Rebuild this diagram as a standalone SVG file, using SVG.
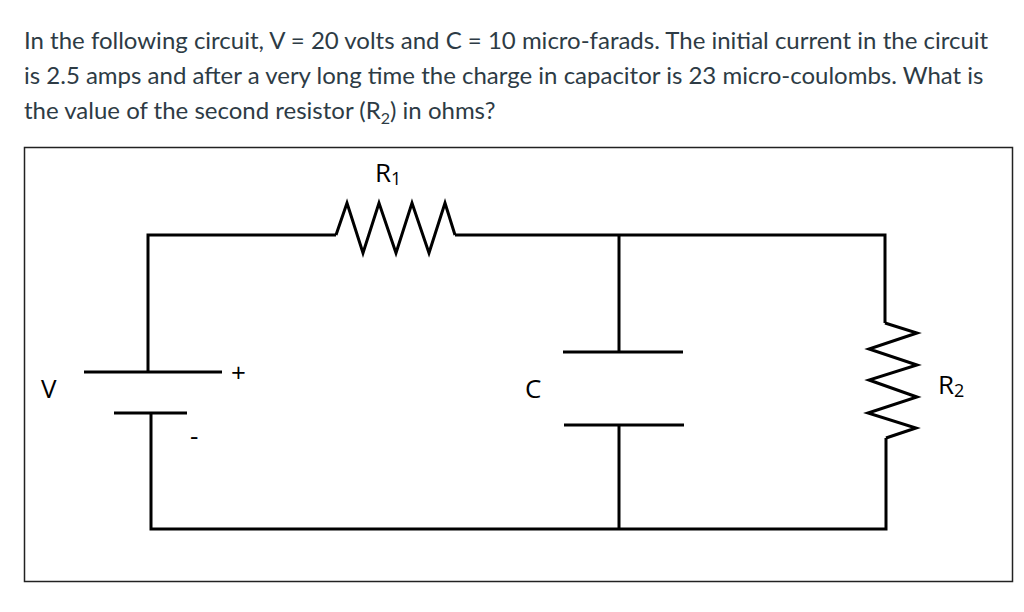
<svg xmlns="http://www.w3.org/2000/svg" width="1024" height="612" viewBox="0 0 1024 612">
<style>
.q{font-family:Lato,"Liberation Sans",sans-serif;font-size:24px;fill:#2d3b45}
.l{font-family:"Open Sans","Liberation Sans",sans-serif;font-size:26px;fill:#000}
.s{font-size:18px}
.w{stroke:#000;stroke-width:3;fill:none}
</style>
<rect width="1024" height="612" fill="#fff"/>
<g id="question">
<text class="q" x="24" y="49">In the following circuit, V = 20 volts and C = 10 micro-farads.  The initial current in the circuit</text>
<text class="q" x="24" y="84">is 2.5 amps and after a very long time the charge in capacitor is 23 micro-coulombs.  What is</text>
<text class="q" x="24" y="119">the value of the second resistor (R<tspan font-size="16" dy="5">2</tspan><tspan dy="-5">) in ohms?</tspan></text>
</g>
<rect x="24.5" y="147.5" width="988" height="434" fill="none" stroke="#222" stroke-width="1.5"/>
<g id="connectors">
<polyline class="w" points="148,372 148,235 336,235"/>
<polyline class="w" points="455,235 885,235 885,323"/>
<line class="w" x1="619" y1="235" x2="619" y2="352"/>
<line class="w" x1="619" y1="425" x2="619" y2="529"/>
<polyline class="w" points="151,413 151,529 886,529 886,438"/>
</g>
<g id="battery">
<line class="w" x1="84" y1="372" x2="222" y2="372"/>
<line class="w" x1="114" y1="413" x2="187" y2="413"/>
<text class="l" x="41" y="398">V</text>
<text class="l" x="231" y="382">+</text>
<text class="l" x="190" y="445">-</text>
</g>
<g id="R1">
<polyline class="w" points="336,235 347,203 363,253 379,203 396,253 412,203 429,253 445,203 455,235"/>
<text class="l" x="375" y="182">R<tspan class="s" dy="3">1</tspan></text>
</g>
<g id="C">
<line class="w" x1="563" y1="352" x2="683" y2="352"/>
<line class="w" x1="564" y1="425" x2="684" y2="425"/>
<text class="l" x="525" y="398">C</text>
</g>
<g id="R2">
<polyline class="w" points="885,323 917,333 869,349 917,365 869,380 917,397 868,413 916,428 886,438"/>
<text class="l" x="938" y="394">R<tspan class="s" dy="3">2</tspan></text>
</g>
</svg>
